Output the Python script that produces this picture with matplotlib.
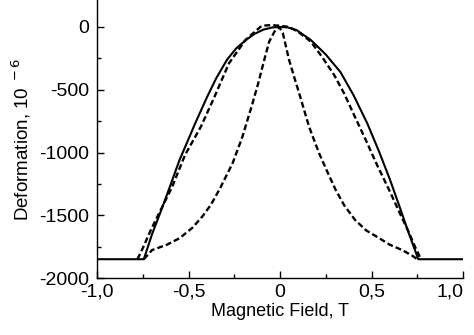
import matplotlib
matplotlib.use("Agg")
import matplotlib.pyplot as plt
from matplotlib.ticker import FixedLocator, MultipleLocator

plt.rcParams["font.family"] = ["Liberation Sans", "DejaVu Sans"]
plt.rcParams["axes.unicode_minus"] = False

# solid curve
solid_x = [-1.0, -0.745, -0.70, -0.65, -0.607, -0.55, -0.50, -0.465, -0.40, -0.35,
           -0.29, -0.24, -0.187, -0.14, -0.09, -0.04, 0.0, 0.04, 0.09, 0.168,
           0.25, 0.33, 0.40, 0.477, 0.54, 0.60, 0.65, 0.70, 0.755, 1.0]
solid_y = [-1850, -1850, -1650, -1460, -1290, -1060, -890, -770, -560, -410,
           -260, -170, -104, -55, -20, -3, 0, -3, -25, -104,
           -220, -360, -540, -770, -990, -1215, -1420, -1630, -1850, -1850]

# outer dashed curve
outer_x = [-0.78, -0.75, -0.707, -0.65, -0.59, -0.52, -0.433, -0.36, -0.28, -0.19,
           -0.14, -0.10, -0.05, 0.0, 0.05, 0.10, 0.168, 0.23, 0.295, 0.35,
           0.404, 0.468, 0.53, 0.596, 0.65, 0.705, 0.74, 0.77]
outer_y = [-1850, -1760, -1618, -1450, -1273, -1020, -794, -560, -290, -104,
           -40, 10, 15, 10, 0, -40, -117, -240, -382, -530,
           -701, -900, -1100, -1299, -1470, -1641, -1760, -1850]

# inner dashed curve
inner_x = [-0.745, -0.70, -0.62, -0.55, -0.48, -0.426, -0.38, -0.33, -0.26, -0.206,
           -0.151, -0.12, -0.087, -0.06, -0.03, -0.005, 0.015, 0.049, 0.077, 0.104,
           0.158, 0.213, 0.26, 0.304, 0.35, 0.41, 0.47, 0.54, 0.60, 0.667,
           0.72, 0.75]
inner_y = [-1850, -1777, -1735, -1683, -1600, -1511, -1420, -1290, -1086, -874,
           -608, -450, -263, -117, -35, 0, -50, -263, -400, -528,
           -794, -1006, -1160, -1299, -1420, -1538, -1620, -1681, -1735, -1777,
           -1820, -1850]

xticks = [-1.0, -0.5, 0.0, 0.5, 1.0]
xtick_labels = ["-1,0", "-0,5", "0", "0,5", "1,0"]
yticks = [0, -500, -1000, -1500, -2000]

fig = plt.figure(figsize=(4.74, 3.35), dpi=100)
ax = fig.add_axes([0.205, 0.17, 0.772, 0.83])

ax.plot(solid_x, solid_y, color="black", lw=1.5, solid_joinstyle="round")
ax.plot(outer_x, outer_y, color="black", lw=1.7, ls=(0, (2.5, 1.3)))
ax.plot(inner_x, inner_y, color="black", lw=1.7, ls=(0, (2.5, 1.3)))

ax.set_xlim(-1.0, 1.0)
ax.set_ylim(-2000, 215)
ax.spines["top"].set_visible(False)
ax.spines["right"].set_visible(False)
for s in ["left", "bottom"]:
    ax.spines[s].set_linewidth(1.0)

ax.xaxis.set_major_locator(FixedLocator(xticks))
ax.set_xticklabels(xtick_labels)
ax.get_xticklabels()[-1].set_horizontalalignment("right")
ax.xaxis.set_minor_locator(MultipleLocator(0.25))
ax.yaxis.set_major_locator(FixedLocator(yticks))
ax.yaxis.set_minor_locator(MultipleLocator(250))
ax.tick_params(which="both", direction="in", labelsize=14, width=1.0)
ax.tick_params(which="major", length=5)
ax.tick_params(which="minor", length=3)
ax.tick_params(axis="y", pad=6)
ax.tick_params(axis="x", pad=4)

ax.set_xlabel("Magnetic Field, T", fontsize=13, labelpad=2)
ax.set_ylabel("Deformation, 10$^{\\ -6}$", fontsize=13.5, labelpad=4)

fig.savefig("out.png", dpi=100)
